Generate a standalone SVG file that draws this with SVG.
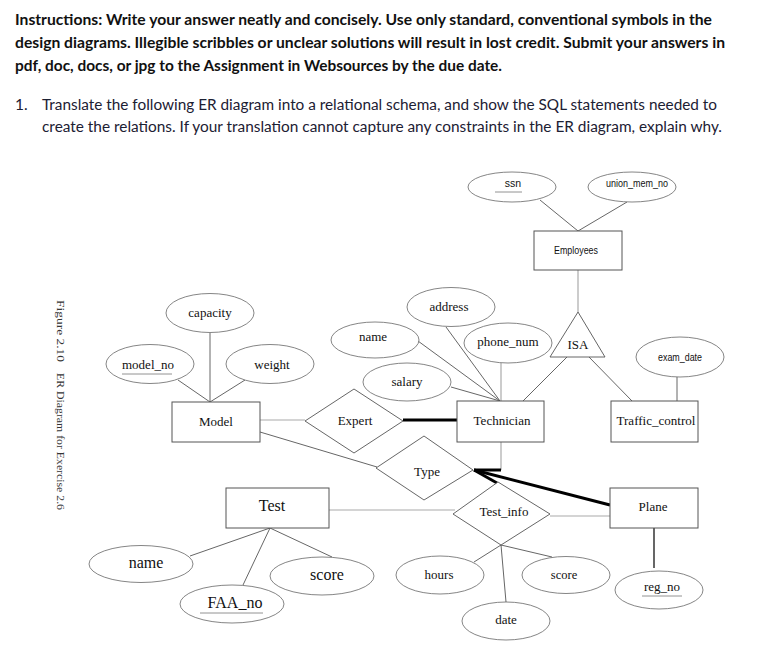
<svg xmlns="http://www.w3.org/2000/svg" width="781" height="666" viewBox="0 0 781 666">
<style>
.hb{font-family:Lato,"Open Sans","Liberation Sans",sans-serif;font-weight:bold;font-size:15.5px;fill:#111}
.hr{font-family:Lato,"Open Sans","Liberation Sans",sans-serif;font-size:15.5px;fill:#1c2033}
.s{font-family:"Liberation Serif","DejaVu Serif",serif;font-size:13px;fill:#111;text-anchor:middle}
.sl{font-family:"Liberation Serif","DejaVu Serif",serif;font-size:16px;fill:#111;text-anchor:middle}
.a{font-family:"Liberation Sans",Arial,sans-serif;font-size:10.5px;fill:#111;text-anchor:middle}
.cap{font-family:"Liberation Serif","DejaVu Serif",serif;font-size:11px;fill:#333}
ellipse{fill:#fff;stroke:#666;stroke-width:0.8}
rect.e{fill:#fff;stroke:#555;stroke-width:1}
polygon.r{fill:#fff;stroke:#555;stroke-width:0.9}
.ln{stroke:#555;stroke-width:0.9;fill:none}
.lg{stroke:#aaa;stroke-width:1.2;fill:none}
.tk{stroke:#000;stroke-width:3;fill:none}
.ul{stroke:#777;stroke-width:0.8}
</style>
<rect width="781" height="666" fill="#fff"/>
<g id="header">
<text class="hb" x="15" y="25" textLength="697" lengthAdjust="spacingAndGlyphs">Instructions:  Write your answer neatly and concisely.  Use only standard, conventional symbols in the</text>
<text class="hb" x="15" y="48" textLength="710" lengthAdjust="spacingAndGlyphs">design diagrams.  Illegible scribbles or unclear solutions will result in lost credit.  Submit your answers in</text>
<text class="hb" x="15" y="71" textLength="487" lengthAdjust="spacingAndGlyphs">pdf, doc, docs, or jpg to the Assignment in Websources by the due date.</text>
<text class="hr" x="15" y="110">1.</text>
<text class="hr" x="42" y="110" textLength="675" lengthAdjust="spacingAndGlyphs">Translate the following ER diagram into a relational schema, and show the SQL statements needed to</text>
<text class="hr" x="42" y="132" textLength="680" lengthAdjust="spacingAndGlyphs">create the relations. If your translation cannot capture any constraints in the ER diagram, explain why.</text>
</g>
<g id="caption">
<text class="cap" transform="translate(57,300) rotate(90)" textLength="62" lengthAdjust="spacingAndGlyphs">Figure 2.10</text>
<text class="cap" transform="translate(57,373) rotate(90)" textLength="137" lengthAdjust="spacingAndGlyphs">ER Diagram for Exercise 2.6</text>
</g>
<g id="connectors">
<line class="ln" x1="540" y1="200" x2="578" y2="231"/>
<line class="ln" x1="627" y1="202" x2="578" y2="231"/>
<line class="lg" x1="578" y1="270" x2="578" y2="312"/>
<line class="ln" x1="567" y1="357" x2="523" y2="401"/>
<line class="ln" x1="589" y1="357" x2="632" y2="401"/>
<line class="ln" x1="677" y1="377" x2="677" y2="401"/>
<line class="ln" x1="446" y1="327" x2="500" y2="401"/>
<line class="ln" x1="418" y1="341" x2="500" y2="401"/>
<line class="ln" x1="451" y1="387" x2="500" y2="401"/>
<line class="lg" x1="501" y1="363" x2="501" y2="401"/>
<line class="ln" x1="210" y1="333" x2="210" y2="402"/>
<line class="ln" x1="178" y1="380" x2="210" y2="402"/>
<line class="ln" x1="245" y1="380" x2="210" y2="402"/>
<line class="lg" x1="260" y1="420" x2="305" y2="420"/>
<line class="tk" x1="403" y1="420" x2="457" y2="420"/>
<line class="ln" x1="260" y1="432" x2="377" y2="467"/>
<line class="lg" x1="501" y1="442" x2="501" y2="470"/>
<line class="tk" x1="501" y1="470" x2="474" y2="470"/>
<line class="tk" x1="497" y1="483" x2="474" y2="470"/>
<line class="tk" x1="610" y1="505" x2="474" y2="470"/>
<line class="lg" x1="329" y1="510" x2="455" y2="510"/>
<line class="lg" x1="550" y1="516" x2="610" y2="516"/>
<line class="tk" x1="654" y1="528" x2="654" y2="568" style="stroke-width:1.2"/>
<line class="ln" x1="501" y1="545" x2="474" y2="562"/>
<line class="ln" x1="501" y1="545" x2="552" y2="557"/>
<line class="ln" x1="501" y1="545" x2="506" y2="602"/>
<line class="ln" x1="270" y1="528" x2="190" y2="556"/>
<line class="ln" x1="270" y1="528" x2="243" y2="585"/>
<line class="ln" x1="270" y1="528" x2="332" y2="557"/>
</g>
<g id="ssn"><ellipse cx="512" cy="187" rx="44" ry="15"/><text class="a" x="513" y="187">ssn</text><line class="ul" x1="495" y1="192" x2="522" y2="192"/></g>
<g id="union_mem_no"><ellipse cx="632" cy="187" rx="44" ry="15"/><text class="a" x="637" y="187" textLength="62" lengthAdjust="spacingAndGlyphs">union_mem_no</text></g>
<g id="employees"><rect class="e" x="534" y="231" width="88" height="39"/><text class="a" x="576" y="254" textLength="44" lengthAdjust="spacingAndGlyphs">Employees</text></g>
<g id="isa"><polygon class="r" points="578,312 550,357 605,357"/><text class="s" x="578" y="349">ISA</text></g>
<g id="technician"><rect class="e" x="457" y="401" width="87" height="41"/><text class="s" x="502" y="425">Technician</text></g>
<g id="traffic_control"><rect class="e" x="611" y="401" width="87" height="41"/><text class="s" x="656" y="425" textLength="79" lengthAdjust="spacingAndGlyphs">Traffic_control</text></g>
<g id="exam_date"><ellipse cx="680" cy="357" rx="44" ry="20"/><text class="a" x="680" y="361" textLength="44" lengthAdjust="spacingAndGlyphs">exam_date</text></g>
<g id="address"><ellipse cx="451" cy="307" rx="44" ry="19.5"/><text class="s" x="449" y="311">address</text></g>
<g id="phone_num"><ellipse cx="508" cy="343" rx="44" ry="20"/><text class="s" x="508" y="346">phone_num</text></g>
<g id="name_tech"><ellipse cx="375" cy="340" rx="44" ry="18"/><text class="s" x="373" y="341">name</text></g>
<g id="salary"><ellipse cx="407" cy="382" rx="44" ry="19"/><text class="s" x="407" y="386">salary</text></g>
<g id="capacity"><ellipse cx="210" cy="313" rx="44" ry="19.5"/><text class="s" x="210" y="317">capacity</text></g>
<g id="model_no"><ellipse cx="150" cy="364" rx="44" ry="19.5"/><text class="s" x="148" y="369">model_no</text><line class="ul" x1="122" y1="374" x2="172" y2="374"/></g>
<g id="weight"><ellipse cx="270" cy="364" rx="44" ry="19.5"/><text class="s" x="272" y="369">weight</text></g>
<g id="model"><rect class="e" x="172" y="402" width="88" height="40"/><text class="s" x="216" y="426">Model</text></g>
<g id="expert"><polygon class="r" points="305,421 354,389 403,421 354,453"/><text class="s" x="355" y="425">Expert</text></g>
<g id="type"><polygon class="r" points="376,468 424,436 473,470 424,500"/><text class="s" x="427" y="476">Type</text></g>
<g id="test_info"><polygon class="r" points="453,514 498,482 550,514 501,545"/><text class="s" x="504" y="516">Test_info</text></g>
<g id="test"><rect class="e" x="226" y="488" width="103" height="40"/><text class="sl" x="272" y="511">Test</text></g>
<g id="plane"><rect class="e" x="610" y="488" width="88" height="40"/><text class="s" x="653" y="511">Plane</text></g>
<g id="reg_no"><ellipse cx="659" cy="590" rx="44" ry="19"/><text class="s" x="662" y="591">reg_no</text><line class="ul" x1="642" y1="596" x2="682" y2="596"/></g>
<g id="hours"><ellipse cx="440" cy="575" rx="44" ry="19"/><text class="s" x="439" y="579">hours</text></g>
<g id="score_ti"><ellipse cx="566" cy="575" rx="44" ry="18.5"/><text class="s" x="564" y="579" style="font-size:12.5px">score</text></g>
<g id="date"><ellipse cx="506" cy="621" rx="44" ry="19"/><text class="s" x="506" y="624">date</text></g>
<g id="name_test"><ellipse cx="141" cy="564" rx="52" ry="18.5"/><text class="sl" x="146" y="568">name</text></g>
<g id="faa_no"><ellipse cx="232" cy="604" rx="52" ry="19"/><text class="sl" x="235" y="608">FAA_no</text><line class="ul" x1="200" y1="613" x2="263" y2="613"/></g>
<g id="score_test"><ellipse cx="322" cy="576" rx="52" ry="19"/><text class="sl" x="327" y="580">score</text></g>
</svg>
